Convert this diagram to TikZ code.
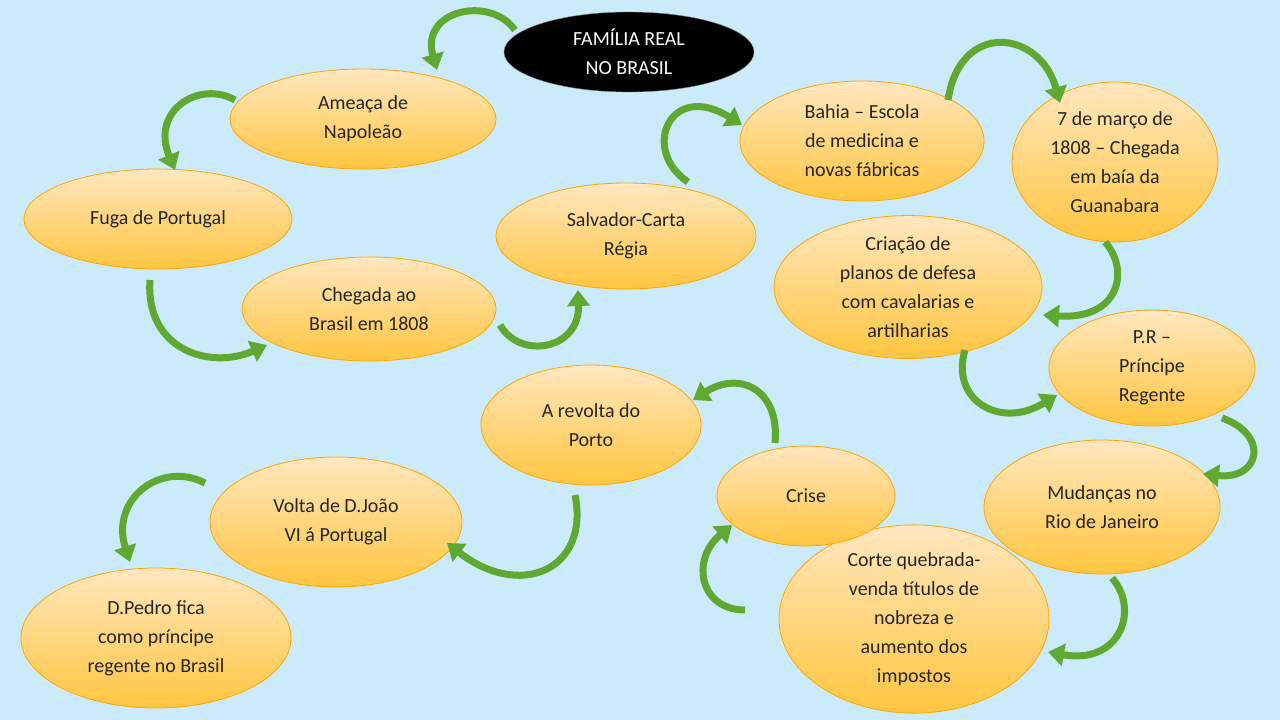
\documentclass[tikz,border=0pt]{standalone}
\usepackage{fontspec}
\setmainfont{Carlito}
\usetikzlibrary{shapes.geometric,arrows.meta}
\definecolor{bg}{HTML}{CCEBFA}
\definecolor{txt}{HTML}{262626}
\definecolor{arr}{HTML}{5FA832}
\tikzset{
 el/.style={ellipse,draw=orange!70!yellow,line width=0.8pt,top color=yellow!25!orange!25,bottom color=orange!60!yellow!75,
  text=txt,align=center,font=\fontsize{20}{29}\selectfont,inner sep=0pt},
 blk/.style={ellipse,fill=black,draw=gray,text=white,align=center,font=\fontsize{20}{29}\selectfont,inner sep=0pt},
 ca/.style={draw=arr,line width=7pt,-{Triangle[length=16pt,width=22pt]}}
}
\begin{document}
\begin{tikzpicture}[x=1pt,y=-1pt]
\fill[bg] (0,0) rectangle (1280,720);
\useasboundingbox (0,0) rectangle (1280,720);
\node[blk,minimum width=250,minimum height=80] (fam) at (629,52) {FAMÍLIA REAL\\NO BRASIL};
\node[el,minimum width=266,minimum height=100] (ame) at (363,119) {Ameaça de\\Napoleão};
\node[el,minimum width=268,minimum height=100] (fug) at (158,219) {Fuga de Portugal};
\node[el,minimum width=254,minimum height=104] (che) at (369,309) {Chegada ao\\Brasil em 1808};
\node[el,minimum width=260,minimum height=106] (sal) at (626,236) {Salvador-Carta\\Régia};
\node[el,minimum width=244,minimum height=120] (bah) at (862,141) {Bahia – Escola\\de medicina e\\novas fábricas};
\node[el,minimum width=206,minimum height=160] (mar) at (1115,162) {7 de março de\\1808 – Chegada\\em baía da\\Guanabara};
\node[el,minimum width=268,minimum height=124] (cri) at (908,287) {Criação de\\planos de defesa\\com cavalarias e\\artilharias};
\node[el,minimum width=206,minimum height=116] (pr) at (1152,368) {P.R –\\Príncipe\\Regente};
\node[el,minimum width=236,minimum height=134] (mud) at (1102,507) {Mudanças no\\Rio de Janeiro};
\node[el,minimum width=270,minimum height=156] (cor) at (914,619) {Corte quebrada-\\venda títulos de\\nobreza e\\aumento dos\\impostos};
\node[el,minimum width=178,minimum height=100] (cse) at (806,496) {Crise};
\node[el,minimum width=220,minimum height=120] (rev) at (591,425) {A revolta do\\Porto};
\node[el,minimum width=252,minimum height=130] (vol) at (336,522) {Volta de D.João\\VI á Portugal};
\node[el,minimum width=270,minimum height=140] (ped) at (156,638) {D.Pedro fica\\como príncipe\\regente no Brasil};
\coordinate (a1) at (515,30); \coordinate (a2) at (437,70);
\coordinate (b1) at (235,100); \coordinate (b2) at (175,170);
\coordinate (c1) at (150,280); \coordinate (c2) at (267,345);
\coordinate (d1) at (500,325); \coordinate (d2) at (578,290);
\coordinate (e1) at (688,182); \coordinate (e2) at (742,125);
\coordinate (f1) at (948,100); \coordinate (f2) at (1060,103);
\coordinate (g1) at (1105,242); \coordinate (g2) at (1043,315);
\coordinate (h1) at (965,350); \coordinate (h2) at (1057,395);
\coordinate (i1) at (1222,418); \coordinate (i2) at (1203,474);
\coordinate (j1) at (1112,578); \coordinate (j2) at (1048,652);
\coordinate (k1) at (745,610); \coordinate (k2) at (732,525);
\coordinate (l1) at (775,443); \coordinate (l2) at (693,400);
\coordinate (m1) at (575,495); \coordinate (m2) at (447,543);
\coordinate (n1) at (205,483); \coordinate (n2) at (130,562);
\draw[ca] (a1) .. controls (490,-5) and (420,10) .. (a2);
\draw[ca] (b1) .. controls (200,80) and (150,110) .. (b2);
\draw[ca] (c1) .. controls (145,350) and (210,370) .. (c2);
\draw[ca] (d1) .. controls (520,360) and (580,350) .. (d2);
\draw[ca] (e1) .. controls (640,150) and (670,80) .. (e2);
\draw[ca] (f1) .. controls (960,20) and (1040,30) .. (f2);
\draw[ca] (g1) .. controls (1130,270) and (1120,320) .. (g2);
\draw[ca] (h1) .. controls (950,400) and (1000,430) .. (h2);
\draw[ca] (i1) .. controls (1270,435) and (1260,480) .. (i2);
\draw[ca] (j1) .. controls (1140,610) and (1120,665) .. (j2);
\draw[ca] (k1) .. controls (700,610) and (690,560) .. (k2);
\draw[ca] (l1) .. controls (780,390) and (740,370) .. (l2);
\draw[ca] (m1) .. controls (590,570) and (520,600) .. (m2);
\draw[ca] (n1) .. controls (160,460) and (110,500) .. (n2);
\end{tikzpicture}
\end{document}
